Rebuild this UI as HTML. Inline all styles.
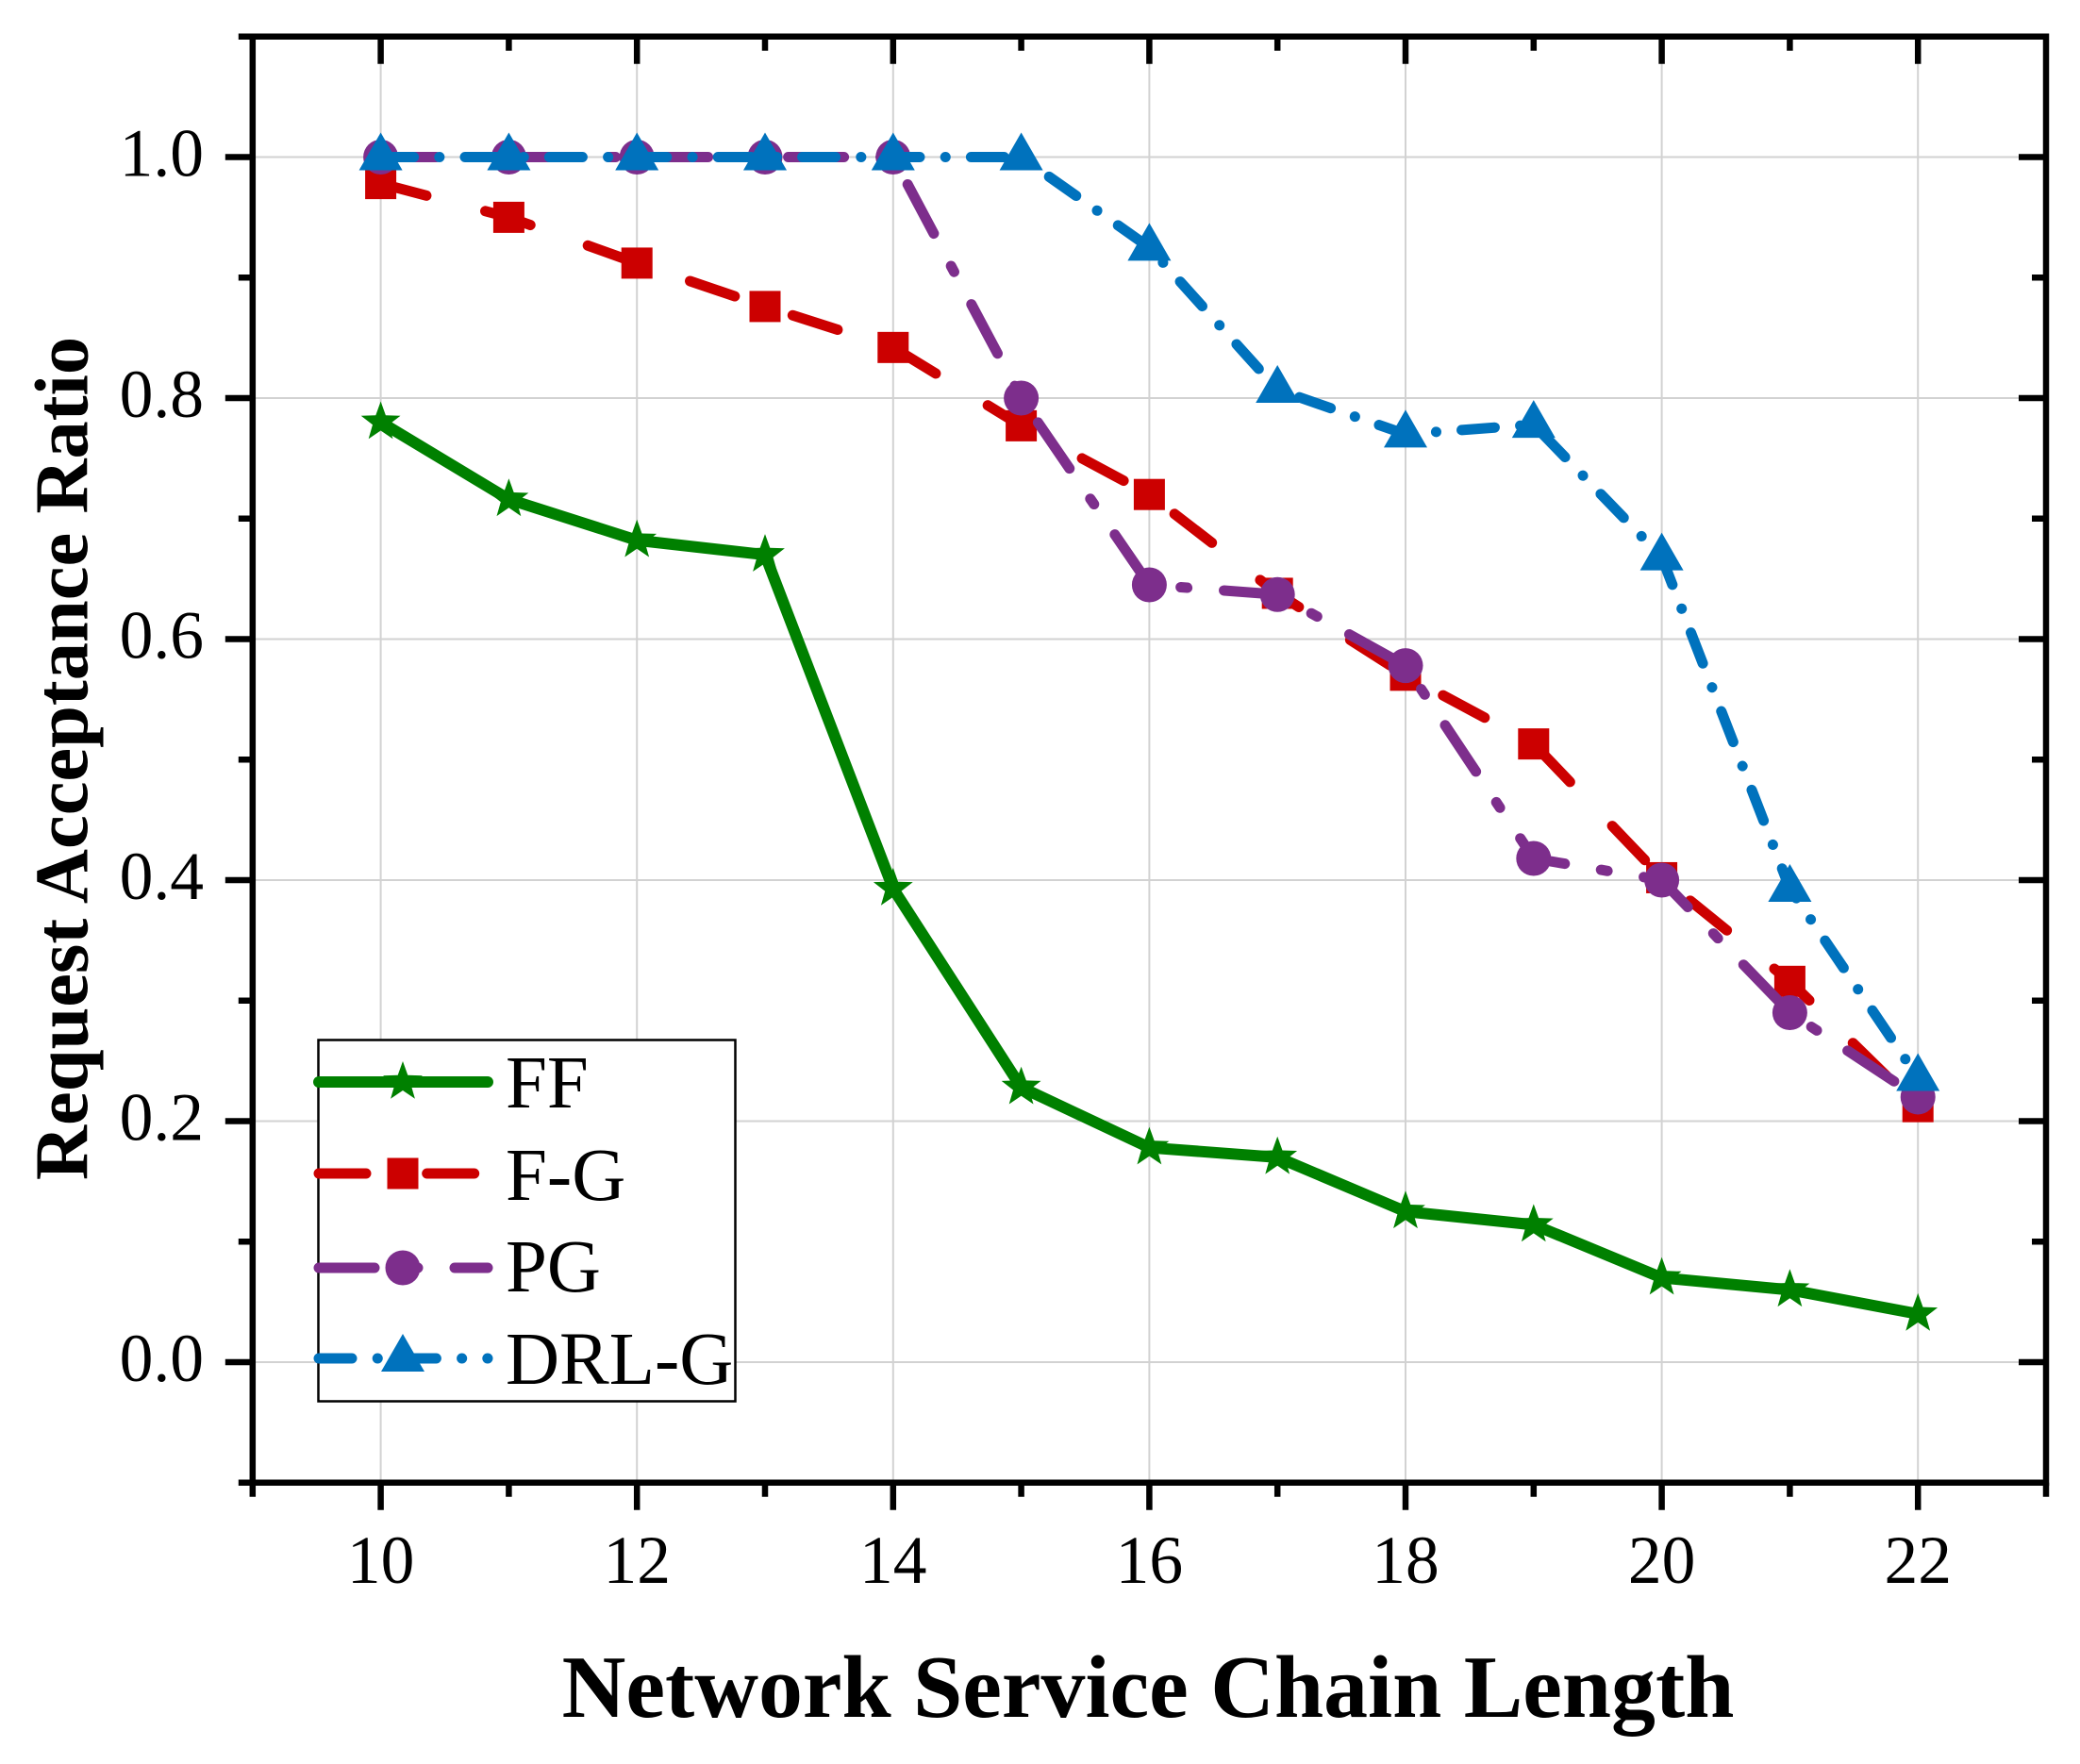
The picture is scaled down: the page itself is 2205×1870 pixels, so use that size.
<!DOCTYPE html>
<html>
<head>
<meta charset="utf-8">
<title>Request Acceptance Ratio</title>
<style>
html,body{margin:0;padding:0;background:#fff;}
svg{display:block;}
text{font-family:"Liberation Serif",serif;fill:#000;}
</style>
</head>
<body>
<svg id="chart" xmlns="http://www.w3.org/2000/svg" width="2205" height="1870" viewBox="0 0 2205 1870">
  <rect x="0" y="0" width="2205" height="1870" fill="#fff"/>
  <g id="grid"></g>
  <g id="axes"></g>
  <g id="series"></g>
  <text x="1217" y="1820" font-size="93.8" font-weight="bold" text-anchor="middle">Network Service Chain Length</text>
  <text transform="translate(92.5,804) rotate(-90)" x="0" y="0" font-size="80.5" font-weight="bold" text-anchor="middle">Request Acceptance Ratio</text>
  <g id="legend">
    <rect x="337.5" y="1102.5" width="442" height="383" fill="#fff" stroke="#000" stroke-width="2.5"/>
    <text x="536" y="1174" font-size="79">FF</text>
    <text x="536" y="1272" font-size="79">F-G</text>
    <text x="536" y="1369" font-size="79">PG</text>
    <text x="536" y="1467" font-size="79">DRL-G</text>
  </g>
</svg>
<script>
var categories = [10, 11, 12, 13, 14, 15, 16, 17, 18, 19, 20, 21, 22];
var ffValues = [0.78, 0.716, 0.682, 0.67, 0.393, 0.228, 0.178, 0.17, 0.125, 0.114, 0.07, 0.06, 0.04];
var fgValues = [0.978, 0.95, 0.912, 0.876, 0.842, 0.777, 0.72, 0.638, 0.57, 0.513, 0.402, 0.316, 0.212];
var pgValues = [1, 1, 1, 1, 1, 0.8, 0.645, 0.637, 0.578, 0.418, 0.4, 0.29, 0.22];
var drlValues = [1, 1, 1, 1, 1, 1, 0.925, 0.807, 0.77, 0.778, 0.668, 0.393, 0.236];
var xTickLabels = ["10", "12", "14", "16", "18", "20", "22"];
var yTickLabels = ["0.0", "0.2", "0.4", "0.6", "0.8", "1.0"];
var xMinorTicks = [9, 11, 13, 15, 17, 19, 21, 23];
var yMinorTicks = [-0.1, 0.1, 0.3, 0.5, 0.7, 0.9, 1.1];

var NS = 'http://www.w3.org/2000/svg';
var X0 = 403.6, XS = 135.8, Y0 = 1444, YS = 1277.5;
function xScale(v) { return X0 + (v - 10) * XS; }
function yScale(v) { return Y0 - v * YS; }
var LEFT = xScale(9), RIGHT = xScale(23), TOP = yScale(1.1), BOTTOM = yScale(-0.1);

function mk(tag, parent, attrs) {
  var el = document.createElementNS(NS, tag);
  for (var k in attrs) el.setAttribute(k, attrs[k]);
  parent.appendChild(el);
  return el;
}

var gridG = document.getElementById('grid');
var axesG = document.getElementById('axes');
var seriesG = document.getElementById('series');
var legendG = document.getElementById('legend');

xTickLabels.forEach(function (t) {
  var x = xScale(+t);
  var g = mk('line', gridG, {x1: x, x2: x, y1: TOP, y2: BOTTOM, stroke: '#d2d2d2', 'stroke-width': 2});
  
  
});
yTickLabels.forEach(function (t) {
  var y = yScale(+t);
  var g = mk('line', gridG, {x1: LEFT, x2: RIGHT, y1: y, y2: y, stroke: '#d2d2d2', 'stroke-width': 2});
  
  
});

function tick(x1, y1, x2, y2) {
  var t = mk('line', axesG, {x1: x1, y1: y1, x2: x2, y2: y2, stroke: '#000', 'stroke-width': 6.5});
  
  
}
var MAJ = 29, MIN = 15;
xTickLabels.forEach(function (t) {
  var x = xScale(+t);
  tick(x, BOTTOM, x, BOTTOM + MAJ);
  tick(x, TOP, x, TOP + MAJ);
  var lab = mk('text', axesG, {x: x, y: 1678, 'font-size': 71.5, 'text-anchor': 'middle'});
  lab.textContent = t;
  
  
});
xMinorTicks.forEach(function (v) {
  var x = xScale(v);
  tick(x, BOTTOM, x, BOTTOM + MIN);
  if (v > 9 && v < 23) tick(x, TOP, x, TOP + MIN);
});
yTickLabels.forEach(function (t) {
  var y = yScale(+t);
  tick(LEFT - MAJ, y, LEFT, y);
  tick(RIGHT - MAJ, y, RIGHT, y);
  var lab = mk('text', axesG, {x: 216, y: y + 20, 'font-size': 71.5, 'text-anchor': 'end'});
  lab.textContent = t;
  
  
});
yMinorTicks.forEach(function (v) {
  var y = yScale(v);
  tick(LEFT - MIN, y, LEFT, y);
  if (v > -0.1 && v < 1.1) tick(RIGHT - MIN, y, RIGHT, y);
});
var frame = mk('rect', axesG, {x: LEFT, y: TOP, width: RIGHT - LEFT, height: BOTTOM - TOP, fill: 'none', stroke: '#000', 'stroke-width': 6.5});



function marker(kind, parent, cx, cy, color) {
  var el;
  if (kind === 'star') {
    var pts = [], R = 22, r = 9;
    for (var i = 0; i < 10; i++) {
      var a = -Math.PI / 2 + i * Math.PI / 5, rad = i % 2 ? r : R;
      pts.push((cx + rad * Math.cos(a)).toFixed(1) + ',' + (cy + rad * Math.sin(a)).toFixed(1));
    }
    el = mk('polygon', parent, {points: pts.join(' '), fill: color});
  } else if (kind === 'square') {
    el = mk('rect', parent, {x: cx - 16.5, y: cy - 16.5, width: 33, height: 33, fill: color});
  } else if (kind === 'circle') {
    el = mk('circle', parent, {cx: cx, cy: cy, r: 18.5, fill: color});
  } else {
    el = mk('polygon', parent, {points: cx + ',' + (cy - 26) + ' ' + (cx + 23) + ',' + (cy + 14) + ' ' + (cx - 23) + ',' + (cy + 14), fill: color});
  }
  return el;
}

function drawSeries(name, values, color, width, dash, kind, legendY) {
  var g = mk('g', seriesG, {});
  
  
  var pts = values.map(function (v, i) { return xScale(categories[i]).toFixed(2) + ',' + yScale(v).toFixed(2); });
  var line = mk('polyline', g, {points: pts.join(' '), fill: 'none', stroke: color, 'stroke-width': width, 'stroke-linecap': 'round', 'stroke-linejoin': 'round', 'stroke-dasharray': dash});
  
  
  values.forEach(function (v, i) {
    var m = marker(kind, g, xScale(categories[i]), yScale(v), color);
    
    
  });
  var ll = mk('line', legendG, {x1: 338, x2: 517, y1: legendY, y2: legendY, stroke: color, 'stroke-width': width, 'stroke-linecap': 'round', 'stroke-dasharray': dash});
  
  
  var lm = marker(kind, legendG, 427, legendY, color);
  
  
}

drawSeries('ff', ffValues, '#008000', 12, 'none', 'star', 1147);
drawSeries('f-g', fgValues, '#cc0000', 11, '50 64.7', 'square', 1244);
drawSeries('pg', pgValues, '#7d2e8c', 11, '59 39 7 39', 'circle', 1344);
drawSeries('drl-g', drlValues, '#0072bd', 11, '35 27.2 0.1 27.1', 'triangle', 1440);
</script>
</body>
</html>
